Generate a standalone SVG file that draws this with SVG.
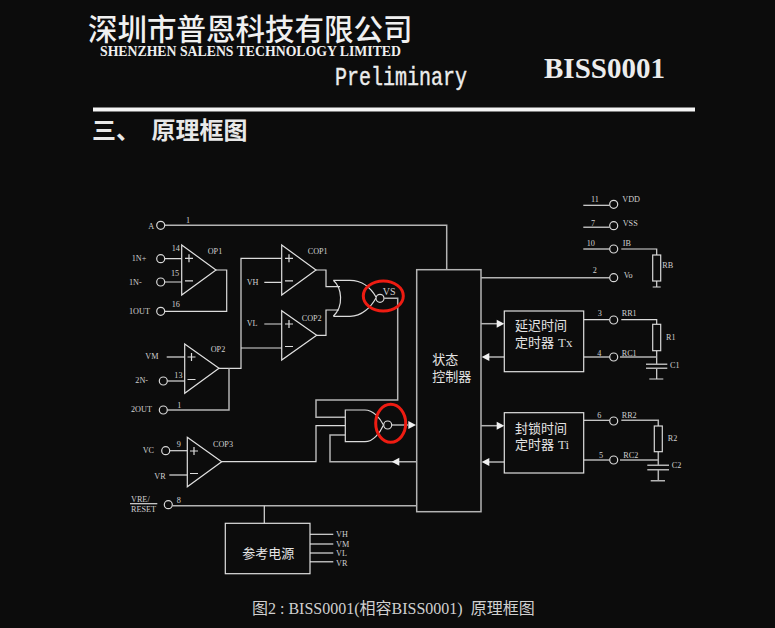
<svg xmlns="http://www.w3.org/2000/svg" width="775" height="628" viewBox="0 0 775 628">
<style>
text{fill:#d0d0d0;font-family:"Liberation Serif","Noto Sans CJK SC",serif}
.l{font-size:8.200px}
.w{fill:none;stroke:#dcdcdc;stroke-width:1.200}
.g{fill:none;stroke:#b4b4b4;stroke-width:1.500}
.b{fill:#0c0c0c;stroke:#e0e0e0;stroke-width:1.200}
.c{fill:#0c0c0c;stroke:#d8d8d8;stroke-width:1.200}
.h{fill:none;stroke:#ee1c12;stroke-width:3}
.cn{font-family:"Noto Sans CJK SC",sans-serif;font-size:13px;fill:#e4e4e4}
.a{fill:#f0f0f0;stroke:none}
</style>
<defs>
<g id="pm"><path class="w" d="M-4 0H4M0-4V4M-4 22.500H4"/></g>
</defs>
<rect width="775" height="628" fill="#0c0c0c"/>
<g id="header">
<text x="88" y="40" style="font-family:'Noto Sans CJK SC',sans-serif;font-size:29.500px;font-weight:500;fill:#f0f0f0">深圳市普恩科技有限公司</text>
<text x="100" y="56" textLength="301" lengthAdjust="spacingAndGlyphs" style="font-size:15px;font-weight:700;fill:#f0f0f0">SHENZHEN SALENS TECHNOLOGY LIMITED</text>
<text x="335" y="85" textLength="132" lengthAdjust="spacingAndGlyphs" style="font-family:'Liberation Mono',monospace;font-size:25px;fill:#ececec;stroke:#ececec;stroke-width:.4">Preliminary</text>
<text x="544" y="78" style="font-size:29px;font-weight:700;fill:#ececec">BISS0001</text>
<rect x="93" y="107.500" width="602" height="4" fill="#f4f4f4"/>
<text x="92" y="138.500" style="font-family:'Noto Sans CJK SC',sans-serif;font-size:24px;font-weight:700;fill:#e8e8e8">三、</text>
<text x="151.500" y="138.500" style="font-family:'Noto Sans CJK SC',sans-serif;font-size:24px;font-weight:700;fill:#e8e8e8">原理框图</text>
</g>
<g id="connectors">
<path class="g" d="M165 225.300H446.700V269.700"/>
<path class="w" d="M165 258.700H181.700M165 282H181.700M165 311.300H226.700V270H216"/>
<path class="w" d="M281.700 258.300H241V368.300H219M241 348H281.700M264.300 282.300H281.700M264.300 324H281.700"/>
<path class="w" d="M316 270H326V286.700H340M316.700 335.300H326V310H339"/>
<path class="g" d="M384.300 298.300H397.700V400H316V417.300H345.300"/>
<path class="w" d="M345.300 425.700H316V461.700H221.700"/>
<path class="g" d="M345.300 435H330V461.700H416.700"/>
<path class="w" d="M392 425H408"/>
<path class="a" d="M416 425L408.300 421V429Z"/>
<path class="a" d="M391.700 461.700L399.300 457.700V465.700Z"/>
<path class="g" d="M166.700 357H184.700"/>
<path class="w" d="M167.300 381H184.700"/>
<path class="g" d="M167.300 410H229V368.300"/>
<path class="w" d="M169.700 450.700H187.300"/>
<path class="g" d="M169.300 475H187.300"/>
<path class="g" d="M172.500 505.700H416.700"/>
<path class="w" d="M264.300 505.700V523.300"/>
<path class="w" d="M310 534.300H333.300"/>
<path class="g" d="M310 544H333.300M310 553H333.300M310 561.700H333.300"/>
<path class="w" d="M583.300 205.300H609.700"/>
<path class="g" d="M583.300 227.300H609.700M583.300 249H609.700"/>
<path class="w" d="M621.300 249H656.700V255M656.700 281V287M652.700 287H660.700"/>
<path class="g" d="M481 277.700H609.700"/>
<path class="g" d="M481 323.700H497"/>
<path class="a" d="M504.300 323.700L496.700 319.700V327.700Z"/>
<path class="g" d="M489 357H504.300"/>
<path class="a" d="M481.700 357L489.300 353V361Z"/>
<path class="g" d="M481 425.700H497"/>
<path class="a" d="M504.300 425.700L496.700 421.700V429.700Z"/>
<path class="g" d="M489 462H504.300"/>
<path class="a" d="M481.700 462L489.300 458V466Z"/>
<path class="w" d="M583.700 319.700H609.700M621.300 319.700H656.700V324.300M656.700 350.700V364.300M656.700 368.300V379M649.300 379H663.300"/>
<path class="g" d="M583.700 357H609.700M620 357H656.700M646 364.300H667.300M646 368.300H667.300"/>
<path class="w" d="M583.700 420.300H609.700"/>
<path class="g" d="M621.300 420.300H658.300V426M658.300 451.700V465.300M658.300 469.700V480.700M650.700 480.700H665M583.700 460H609.700M620 460H658.300M647.300 465.300H669M647.300 469.700H669"/>
<path class="w" d="M130 503.700H157.300"/>
</g>
<g id="op1"><path class="b" d="M181.700 245L216 270L181.700 295Z"/><use href="#pm" x="189" y="258.300"/><text class="l" x="207.700" y="254.300">OP1</text></g>
<g id="op2"><path class="b" d="M184.700 344L219 368.300L184.700 393.300Z"/><use href="#pm" x="191.500" y="357"/><text class="l" x="210.700" y="351.700">OP2</text></g>
<g id="cop1"><path class="b" d="M281.700 245L316 270L281.700 295Z"/><use href="#pm" x="289" y="258.300"/><text class="l" x="307.700" y="254.300">COP1</text></g>
<g id="cop2"><path class="b" d="M281.700 310.700L316.700 335.300L281.700 360Z"/><use href="#pm" x="289" y="324"/><text class="l" x="301.700" y="320.700">COP2</text></g>
<g id="cop3"><path class="b" d="M187.300 437.300L221.700 461.700L187.300 486.700Z"/><use href="#pm" x="194" y="451"/><text class="l" x="213" y="447.300">COP3</text></g>
<g id="or-gate"><path class="w" d="M333.300 280.300C342 288 344 306 333.300 316.300M333.300 280.300H350C362 280.300 371 288 376 297M333.300 316.300H350C362 316.300 371 307 376 298"/><circle class="c" cx="380" cy="298.300" r="4"/><text x="382.700" y="295" style="font-size:10px">VS</text><ellipse class="h" cx="383.300" cy="296" rx="20" ry="15"/></g>
<g id="nand-gate"><path class="w" d="M345.300 410H365C373 410 380 418 383.500 425C380 433 373 441.700 365 441.700H345.300Z"/><circle class="c" cx="387.700" cy="425" r="4"/><ellipse class="h" cx="390.700" cy="423.300" rx="15" ry="19"/></g>
<g id="pins">
<circle class="c" cx="160.700" cy="225.300" r="4"/><circle class="c" cx="160.700" cy="258.700" r="4"/><circle class="c" cx="160.700" cy="282" r="4"/><circle class="c" cx="160.700" cy="311.300" r="4"/><circle class="c" cx="163.300" cy="381" r="4"/><circle class="c" cx="163.300" cy="410" r="4"/><circle class="c" cx="165.700" cy="450.700" r="4"/><circle class="c" cx="168.300" cy="504.700" r="4"/><circle class="c" cx="613.700" cy="204.300" r="4"/><circle class="c" cx="613.700" cy="225.700" r="4"/><circle class="c" cx="613.700" cy="249" r="4"/><circle class="c" cx="613.700" cy="277.700" r="4"/><circle class="c" cx="613.700" cy="320" r="4"/><circle class="c" cx="613.700" cy="357" r="4"/><circle class="c" cx="613.700" cy="421" r="4"/><circle class="c" cx="613.700" cy="460" r="4"/>
<text class="l" x="148.300" y="229.300">A</text><text class="l" x="186" y="223">1</text><text class="l" x="171.700" y="250.700">14</text><text class="l" x="171" y="276">15</text><text class="l" x="171.700" y="306.700">16</text><text class="l" x="131.700" y="260.700">1N+</text><text class="l" x="129" y="284.700">1N-</text><text class="l" x="129" y="313.700">1OUT</text><text class="l" x="246.700" y="284.700">VH</text><text class="l" x="246.700" y="326">VL</text><text class="l" x="145.300" y="359.300">VM</text><text class="l" x="174.300" y="377.700">13</text><text class="l" x="135.300" y="382.700">2N-</text><text class="l" x="131" y="411.700">2OUT</text><text class="l" x="177.300" y="407.700">1</text><text class="l" x="142.700" y="453.300">VC</text><text class="l" x="176.700" y="447.300">9</text><text class="l" x="154.300" y="479.300">VR</text><text class="l" x="131" y="502.200">VRE/</text><text class="l" x="131" y="511.700">RESET</text><text class="l" x="176.700" y="503">8</text>
<text class="l" x="591" y="201.700">11</text><text class="l" x="622.300" y="201.700">VDD</text><text class="l" x="591" y="225.700">7</text><text class="l" x="622.700" y="225.700">VSS</text><text class="l" x="586.700" y="245.700">10</text><text class="l" x="622.700" y="245.700">IB</text><text class="l" x="592.700" y="272.700">2</text><text class="l" x="623.700" y="277.700">Vo</text><text class="l" x="597.700" y="315.700">3</text><text class="l" x="621.700" y="315.700">RR1</text><text class="l" x="597.300" y="356">4</text><text class="l" x="621.700" y="356">RC1</text><text class="l" x="597.300" y="418.300">6</text><text class="l" x="621.700" y="418.300">RR2</text><text class="l" x="599" y="457.700">5</text><text class="l" x="623.300" y="457.700">RC2</text>
</g>
<g id="rb"><rect class="c" x="652.700" y="255" width="8" height="26"/><text class="l" x="662.300" y="268.300">RB</text></g>
<g id="r1"><rect class="c" x="652.700" y="324.300" width="8" height="26.400"/><text class="l" x="666" y="340.300">R1</text></g>
<g id="c1"><text class="l" x="670" y="367.700">C1</text></g>
<g id="r2"><rect class="c" x="654.300" y="426" width="8" height="25.700"/><text class="l" x="667.700" y="441">R2</text></g>
<g id="c2"><text class="l" x="671.700" y="468.300">C2</text></g>
<g id="controller"><rect class="g" x="416.700" y="269.700" width="64.300" height="242" style="fill:#0c0c0c"/><text class="cn" x="432.300" y="364.300">状态</text><text class="cn" x="432.300" y="381">控制器</text></g>
<g id="timer-tx"><rect class="b" x="504.300" y="311" width="79.400" height="60.700"/><text class="cn" x="515" y="330.300">延迟时间</text><text class="cn" x="515" y="347">定时器</text><text x="558" y="347" style="font-size:13px;fill:#d8d8d8">Tx</text></g>
<g id="timer-ti"><rect class="b" x="504.300" y="412.700" width="79.400" height="60.300"/><text class="cn" x="515" y="432.700">封锁时间</text><text class="cn" x="515" y="449">定时器</text><text x="558" y="449" style="font-size:13px;fill:#d8d8d8">Ti</text></g>
<g id="reference"><rect class="b" x="225.300" y="523.300" width="84.700" height="50.400"/><text class="cn" x="242.300" y="558.300">参考电源</text><text class="l" x="336" y="537.300">VH</text><text class="l" x="336" y="546.700">VM</text><text class="l" x="336" y="555.700">VL</text><text class="l" x="336" y="565.700">VR</text></g>
<text id="caption" x="252" y="614" style="font-size:16px;white-space:pre">图2 : BISS0001(相容BISS0001)  原理框图</text>
</svg>
